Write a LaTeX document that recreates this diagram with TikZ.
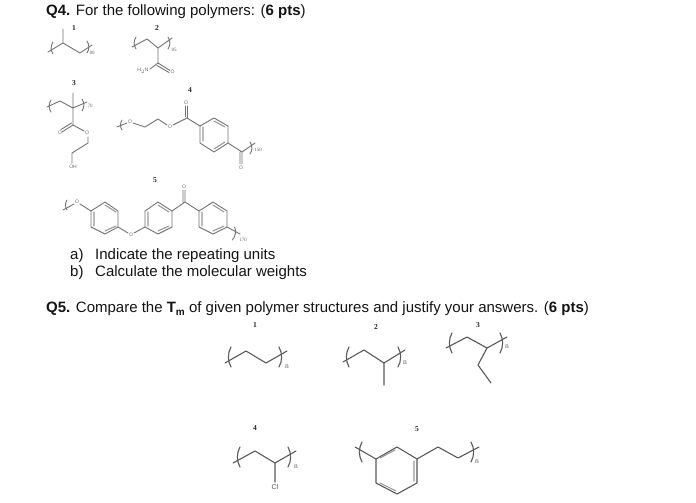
\documentclass[tikz,border=0pt]{standalone}
\usepackage{fontspec}
\setmainfont{Liberation Sans}
\newfontfamily\serifnum{Liberation Serif}
\tikzset{
  bondA/.style={draw=black!55,line width=0.9pt,line join=round,line cap=round},
  bondB/.style={draw=black!65,line width=1.1pt,line join=round,line cap=round},
  ringline/.style={draw=black!40,line width=1.1pt,line cap=round},
  txt/.style={anchor=west,inner sep=0pt,text=black!92,font=\fontsize{15}{17}\selectfont},
  lab/.style={inner sep=0pt,font=\serifnum\bfseries\fontsize{7.5}{8}\selectfont,text=black!85},
  tiny/.style={inner sep=0pt,font=\serifnum\fontsize{5}{5}\selectfont,text=black!60},
  atom/.style={inner sep=0.3pt,fill=white,font=\fontsize{5}{5}\selectfont,text=black!60},
  subn/.style={inner sep=0pt,font=\serifnum\fontsize{7.5}{8}\selectfont,text=black!65},
  cl/.style={inner sep=0.3pt,fill=white,font=\fontsize{7}{8}\selectfont,text=black!65}
}
% centre x, centre y, rotation, half height, bulge
\newcommand{\brk}[6][bondA]{\draw[#1,shift={(#2,#3)},rotate=#4] (0,-#5) .. controls (#6,-#5*0.4) and (#6,#5*0.4) .. (0,#5);}
\begin{document}
\begin{tikzpicture}[x=1pt,y=-1pt]
\useasboundingbox (0,0) rectangle (696,503);
\fill[white] (0,0) rectangle (696,503);
% texts
\node[txt] (q4) at (46,12) {\textbf{Q4.} For the following polymers: (\textbf{6 pts})};
\node[txt] (qa1) at (70,255.5) {a)};
\node[txt] (qa2) at (95,255.5) {Indicate the repeating units};
\node[txt] (qb1) at (70,272.5) {b)};
\node[txt] (qb2) at (95,272.5) {Calculate the molecular weights};
\node[txt] (q5) at (46,308.5) {\textbf{Q5.} Compare the \textbf{T\raisebox{-0.2em}{\fontsize{10}{10}\selectfont m}} of given polymer structures and justify your answers. (\textbf{6 pts})};
% Q4 labels
\node[lab] (a1) at (74,28) {1};
\node[lab] (a2) at (157,28) {2};
\node[lab] (a3) at (74,83) {3};
\node[lab] (a4) at (190,90) {4};
\node[lab] (a5) at (155,180) {5};
% Q4 molecule 1
\draw[bondA] (48,52) -- (63,43) -- (80,53) -- (92,45) (63,43) -- (63,29);
\brk{53}{48}{0}{6}{-2.5}
\brk{87}{47}{0}{6}{2.5}
\node[tiny] (n1) at (92,53) {80};
% Q4 molecule 2
\draw[bondA] (132,47) -- (147,39) -- (158,48) -- (172,38) (158,48) -- (158,63) -- (150,69);
\draw[bondA] (158,63) -- (170,70.5) (157,65.5) -- (169,72.5);
\brk{136}{43}{0}{6}{-2.5}
\brk{168}{43}{0}{6}{2.5}
\node[tiny] (n2) at (174,50) {85};
\node[atom] (m2n) at (143,71) {H$_2$N};
\node[atom] (m2o) at (172.5,72) {O};
% Q4 molecule 3
\draw[bondA] (47,107) -- (60,101) -- (73,108) -- (87,102) (73,93) -- (73,125);
\draw[bondA] (73,125) -- (62,132) (71.5,123) -- (61,129.5);
\draw[bondA] (73,125) -- (84,131) (88,137) -- (88,143) -- (72,153) -- (72,163);
\brk{51}{106}{0}{6}{-2.5}
\brk{82}{105}{0}{6}{2.5}
\node[tiny] (n3) at (90,106) {70};
\node[atom] (m3e) at (60,133) {O};
\node[atom] (m3o) at (87,133) {O};
\node[atom] (m3h) at (73,167) {OH};
% Q4 molecule 4
\draw[bondA] (117,127) -- (127,123) (133,123) -- (145,127) -- (158,119) -- (167,125) (173,125) -- (187,118) -- (200,126);
\draw[bondA] (187,118) -- (187,106) (185,117) -- (185,106);
\draw[bondA] (200,126) -- (214,118) -- (228,126) -- (228,143) -- (214,152) -- (200,143) -- cycle;
\draw[ringline] (203,127) -- (203,141) (214,121) -- (225,127) (214,149) -- (225,142);
\draw[bondA] (228,143) -- (242,152) -- (255,143) (242,152) -- (242,164) (240,152) -- (240,164);
\brk{122}{125}{0}{5}{-2}
\brk{250}{148}{0}{6}{2.5}
\node[tiny] (n4) at (258,150) {150};
\node[atom] (m4a) at (130,122) {O};
\node[atom] (m4b) at (170,127) {O};
\node[atom] (m4c) at (186,103) {O};
\node[atom] (m4d) at (241,168) {O};
% Q4 molecule 5
\draw[bondA] (63,210) -- (74,204) (80,204) -- (91,211);
\draw[bondA] (91,211) -- (105,202) -- (118,211) -- (118,227) -- (105,234) -- (91,227) -- cycle;
\draw[ringline] (94,212) -- (94,226) (105,205) -- (116,212) (105,231) -- (116,226);
\draw[bondA] (118,227) -- (128,233) (134,233) -- (145,227);
\draw[bondA] (145,227) -- (145,211) -- (158,202) -- (172,211) -- (172,227) -- (158,234) -- cycle;
\draw[ringline] (148,212) -- (148,226) (158,205) -- (169,212) (158,231) -- (169,226);
\draw[bondA] (172,211) -- (185,202) -- (199,211) (185,202) -- (185,190) (183,202) -- (183,190);
\draw[bondA] (199,211) -- (213,202) -- (227,211) -- (227,227) -- (213,234) -- (199,227) -- cycle;
\draw[ringline] (202,212) -- (202,226) (213,205) -- (224,212) (213,231) -- (224,226);
\draw[bondA] (227,227) -- (240,234);
\brk{233.5}{233.5}{-10}{6.5}{2.5}
\brk{67}{205}{0}{5}{-2}
\node[tiny] (n5) at (243,239.5) {170};
\node[atom] (m5a) at (77,202) {O};
\node[atom] (m5b) at (131,235) {O};
\node[atom] (m5c) at (184,187) {O};
% Q5 labels
\node[lab] (b1) at (255,325) {1};
\node[lab] (b2) at (376,327) {2};
\node[lab] (b3) at (478,325) {3};
\node[lab] (b4) at (255,428) {4};
\node[lab] (b5) at (417,429) {5};
% Q5 molecule 1
\draw[bondB] (225,363) -- (246,351) -- (266,363) -- (287,351);
\brk[bondB]{231}{357}{0}{10}{-3.5}
\brk[bondB]{279}{357}{0}{10}{3.5}
\node[subn] (c1) at (287,367) {n};
% Q5 molecule 2
\draw[bondB] (343,362) -- (364,350) -- (384,363) -- (405,350) (384,363) -- (384,385);
\brk[bondB]{349}{357}{0}{10}{-3.5}
\brk[bondB]{398}{357}{0}{10}{3.5}
\node[subn] (c2) at (405,363) {n};
% Q5 molecule 3
\draw[bondB] (446,348) -- (467,337) -- (487,348) -- (507,337) (487,348) -- (478,365) -- (491,383);
\brk[bondB]{452}{343}{0}{10}{-3.5}
\brk[bondB]{500}{343}{0}{10}{3.5}
\node[subn] (c3) at (507,347) {n};
% Q5 molecule 4
\draw[bondB] (233,463) -- (255,451) -- (275,463) -- (296,451) (275,463) -- (275,482);
\brk[bondB]{240}{457}{0}{10}{-3.5}
\brk[bondB]{288}{457}{0}{10}{3.5}
\node[subn] (c4) at (296,467) {n};
\node[cl] (c4cl) at (275,487) {Cl};
% Q5 molecule 5
\draw[bondB] (355,447) -- (376,459);
\draw[bondB] (376,459) -- (397,447) -- (417,459) -- (417,483) -- (397,494) -- (376,483) -- cycle;
\draw[ringline] (380,458) -- (395,450) (414,461) -- (414,481) (380,483) -- (396,491);
\draw[bondB] (417,459) -- (438,447) -- (458,458) -- (479,447);
\brk[bondB]{362}{452}{0}{10}{-3.5}
\brk[bondB]{471}{452}{0}{10}{3.5}
\node[subn] (c5) at (477,462) {n};
\end{tikzpicture}
\end{document}
